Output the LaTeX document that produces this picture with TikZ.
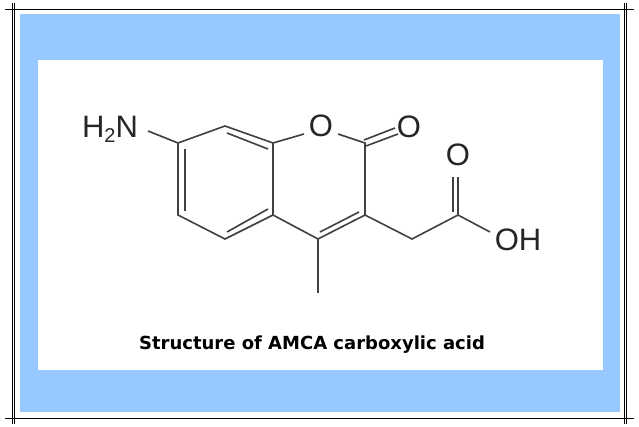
\documentclass[tikz,border=0pt]{standalone}
\usetikzlibrary{calc}
\usepackage{fontspec}
\setmainfont{Liberation Sans}
\newfontfamily\capfont{DejaVu Sans}
\begin{document}
\begin{tikzpicture}[x=1pt,y=-1pt,
  bond/.style={line width=1.6pt,draw=black!75},
  atom/.style={inner sep=1pt,font=\fontsize{31}{31}\selectfont,text=black!85},
  frame/.style={line width=0.9pt,black}]
\useasboundingbox (0,0) rectangle (639,427);
\fill[white] (0,0) rectangle (639,427);
\fill[fill={rgb,255:red,150;green,200;blue,255}] (20,14) rectangle (620,412);
\fill[white] (38,60) rectangle (603,370);
\draw[frame] (5,9) -- (634,9);
\draw[frame] (5,418) -- (634,418);
\draw[frame] (12,3) -- (12,424);
\draw[frame] (14.5,3) -- (14.5,424);
\draw[frame] (624,3) -- (624,424);
\draw[frame] (626.5,3) -- (626.5,424);
% atoms
\coordinate (c7) at (178,143);
\coordinate (c8) at (225,126);
\coordinate (c8a) at (273,143);
\coordinate (c4a) at (273,215);
\coordinate (c5) at (225,239);
\coordinate (c6) at (178,215);
\coordinate (c2) at (365,143);
\coordinate (c3) at (365,215);
\coordinate (c4) at (318,239);
\coordinate (me) at (318,293);
\coordinate (ch2) at (412,239);
\coordinate (cc) at (458,215);
\coordinate (otop) at (458,177);
\coordinate (oh) at (490,232);
\coordinate (coa) at (395,128);
\coordinate (cob) at (398,134);
\coordinate (o1l) at (304,134);
\coordinate (o1r) at (338,134);
\coordinate (nend) at (148,131);
\node[atom] (nh2) at (110,129) {H\raisebox{-0.3ex}{\fontsize{20}{20}\selectfont 2}N};
\node[atom] (o1) at (321,126) {O};
\node[atom] (o2) at (409,127) {O};
\node[atom] (o3) at (458,155) {O};
\node[atom] (ohl) at (518,240) {OH};
% bonds
\draw[bond] (nend) -- (c7);
\draw[bond] (c7) -- (c8) -- (c8a) -- (c4a) -- (c5) -- (c6) -- cycle;
\draw[bond] (c8a) -- (o1l);
\draw[bond] (o1r) -- (c2) -- (c3) -- (c4) -- (c4a);
\draw[bond] (c4) -- (me);
\draw[bond] (c3) -- (ch2) -- (cc) -- (oh);
\draw[bond] (cc) -- (otop);
% double bonds
\draw[bond] ($(c8)+(2,7)$) -- ($(c8a)+(-5,6)$);
\draw[bond] ($(c6)+(7,-4)$) -- ($(c7)+(7,6)$);
\draw[bond] ($(c5)+(2,-7)$) -- ($(c4a)+(-5,-6)$);
\draw[bond] ($(c3)+(-6,-3)$) -- ($(c4)+(2,-7)$);
\draw[bond] ($(c2)+(-1,-3)$) -- (coa);
\draw[bond] ($(c2)+(1,3)$) -- (cob);
\draw[bond] ($(cc)+(-5,-3)$) -- ($(otop)+(-5,0)$);
\node[font=\capfont\bfseries\fontsize{18}{20}\selectfont] (cap) at (312,345) {Structure of AMCA carboxylic acid};
\end{tikzpicture}
\end{document}
